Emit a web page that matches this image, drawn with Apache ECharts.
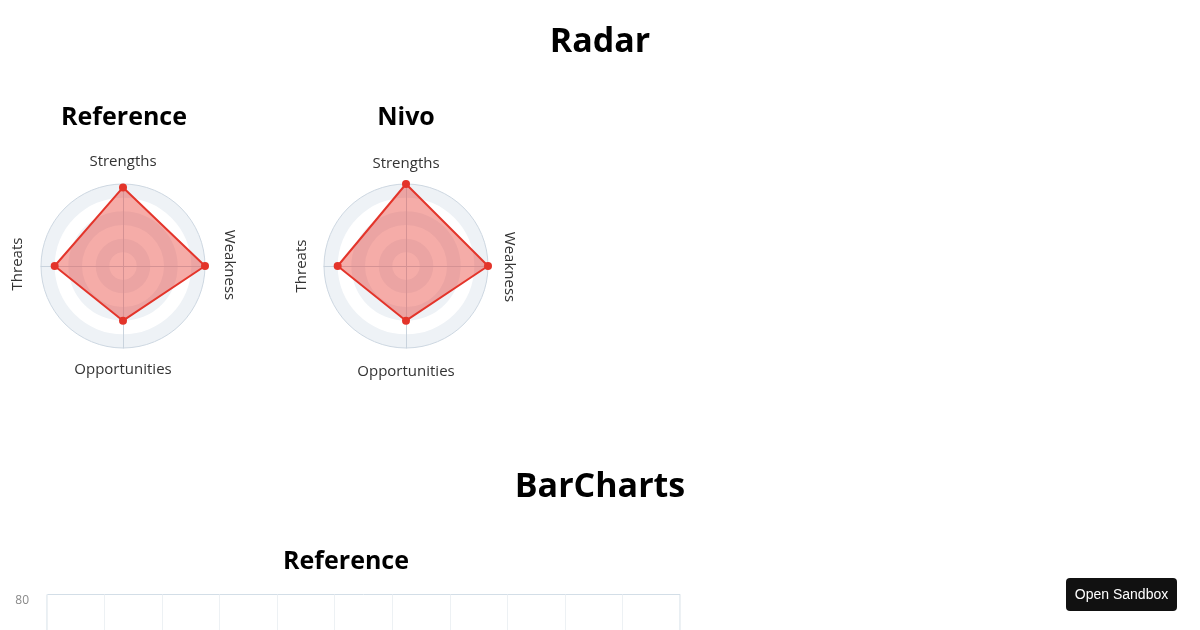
<!DOCTYPE html>
<html>
<head>
<meta charset="utf-8">
<script src="https://cdn.jsdelivr.net/npm/echarts@6/dist/echarts.min.js"></script>
<style>
html,body{margin:0;padding:0;background:#fff;}
#chart{width:1200px;height:630px;}
</style>
</head>
<body>
<div id="chart"></div>
<script>
// ---- data ----
var radarAxes = ['Strengths', 'Threats', 'Opportunities', 'Weakness'];
var radarMax = 120;
var referenceValues = [115, 100, 80, 120];
var nivoValues = [120, 100, 80, 120];
var barCategories = ['1','2','3','4','5','6','7','8','9','10','11'];
var barValues = [];
var barYMax = 82;

var FONT = 'Open Sans';
var chart = echarts.init(document.getElementById('chart'));

var T = 'rgba(0,0,0,0)';
function radarCfg(cx) {
  return {
    center: [cx, 266],
    radius: 82,
    startAngle: 90,
    splitNumber: 6,
    shape: 'circle',
    indicator: radarAxes.map(function (n) { return { name: n, max: radarMax, min: 0 }; }),
    axisName: { show: false },
    splitArea: { show: true, areaStyle: { color: ['#ffffff', '#eef2f6'] } },
    splitLine: { show: true, lineStyle: { color: [T, T, T, T, T, T, '#cdd7e1'], width: 1 } },
    axisLine: { show: true, lineStyle: { color: '#c9d3dd', width: 1 } }
  };
}

function radarSeries(idx, vals, name) {
  return {
    type: 'radar',
    radarIndex: idx,
    symbol: 'circle',
    symbolSize: 8,
    lineStyle: { color: '#e3342a', width: 2 },
    itemStyle: { color: '#e3342a' },
    areaStyle: { color: '#e83a30', opacity: 0.42 },
    data: [{ value: vals, name: name }]
  };
}

function txt(t, x, y, size, weight, color, rot, family) {
  return {
    type: 'text', x: x, y: y, rotation: rot || 0, silent: true,
    style: { text: t, fill: color, font: weight + ' ' + size + 'px "' + (family || FONT) + '"', textAlign: 'center', textVerticalAlign: 'middle' }
  };
}

var labelColor = '#333333';
var graphics = [
  txt('Radar', 600, 42, 34, 'bold', '#000'),
  txt('Reference', 124, 118, 25, 'bold', '#000'),
  txt('Nivo', 406, 118, 25, 'bold', '#000'),
  txt('BarCharts', 600, 487, 34, 'bold', '#000'),
  txt('Reference', 346, 562, 25, 'bold', '#000'),
  // radar axis names
  txt(radarAxes[0], 123, 162, 15, 'normal', labelColor),
  txt(radarAxes[2], 123, 370, 15, 'normal', labelColor),
  txt(radarAxes[3], 229, 265, 15, 'normal', labelColor, -Math.PI / 2),
  txt(radarAxes[1], 18, 264, 15, 'normal', labelColor, Math.PI / 2),
  txt(radarAxes[0], 406, 164, 15, 'normal', labelColor),
  txt(radarAxes[2], 406, 372, 15, 'normal', labelColor),
  txt(radarAxes[3], 509, 267, 15, 'normal', labelColor, -Math.PI / 2),
  txt(radarAxes[1], 302, 266, 15, 'normal', labelColor, Math.PI / 2),
  // button
  { type: 'rect', shape: { x: 1066, y: 578, width: 111, height: 33, r: 4 }, style: { fill: '#111111' }, silent: true },
  txt('Open Sandbox', 1121.5, 595, 14, 'normal', '#ffffff', 0, 'Liberation Sans')
];

chart.setOption({
  animation: false,
  radar: [radarCfg(123), radarCfg(406)],
  grid: { left: 47, top: 594.5, width: 633, height: 246, show: true, borderColor: '#d3dee7', borderWidth: 1, containLabel: false, outerBoundsMode: 'none' },
  xAxis: {
    type: 'category', data: barCategories,
    axisLine: { show: false }, axisTick: { show: false }, axisLabel: { show: false },
    splitLine: { show: true, lineStyle: { color: '#edf1f4' } }
  },
  yAxis: {
    type: 'value', min: 0, max: barYMax, interval: 20,
    axisLine: { show: false }, axisTick: { show: false },
    axisLabel: { color: '#888', fontSize: 12, fontFamily: FONT, margin: 18, showMaxLabel: false },
    splitLine: { show: false }
  },
  series: [
    radarSeries(0, referenceValues, 'Reference'),
    radarSeries(1, nivoValues, 'Nivo'),
    { type: 'bar', data: barValues }
  ],
  graphic: graphics
});
</script>
</body>
</html>
